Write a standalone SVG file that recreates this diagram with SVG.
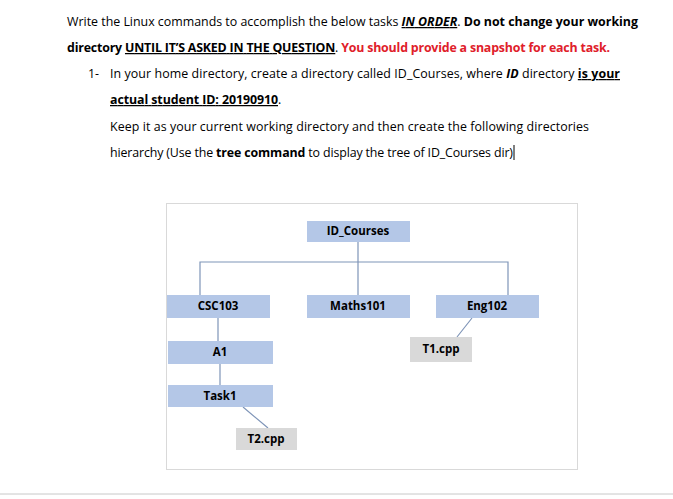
<svg xmlns="http://www.w3.org/2000/svg" width="673" height="499" viewBox="0 0 673 499">
<style>
text{font-family:"Open Sans","Liberation Sans",sans-serif;font-size:12.4px;fill:#000}
.b{font-weight:bold}
.r{fill:#e0202a;font-weight:bold}
.n{fill:#b4c7e7}
.f{fill:#d9d9d9}
.c{stroke:#7f95b8;stroke-width:1.2;fill:none}
.l{font-size:11.5px;font-weight:bold;text-anchor:middle}
</style>
<rect width="673" height="499" fill="#fff"/>
<text x="67" y="26" textLength="571">Write the Linux commands to accomplish the below tasks <tspan class="b" font-style="italic" text-decoration="underline">IN ORDER</tspan>. <tspan class="b">Do not change your working</tspan></text>
<text x="67" y="52" textLength="543"><tspan class="b">directory </tspan><tspan class="b" text-decoration="underline">UNTIL IT’S ASKED IN THE QUESTION</tspan>. <tspan class="r">You should provide a snapshot for each task.</tspan></text>
<text x="88" y="78">1-</text>
<text x="110" y="78" textLength="510">In your home directory, create a directory called ID_Courses, where <tspan class="b" font-style="italic">ID</tspan> directory <tspan class="b" text-decoration="underline">is your</tspan></text>
<text x="110" y="104" class="b" text-decoration="underline" textLength="168">actual student ID: 20190910</text><text x="278" y="104">.</text>
<text x="110" y="131" textLength="479">Keep it as your current working directory and then create the following directories</text>
<text x="110" y="157" textLength="403">hierarchy (Use the <tspan class="b">tree command</tspan> to display the tree of ID_Courses dir)</text>
<line x1="514" y1="145" x2="514" y2="160" stroke="#000"/>
<rect x="166.5" y="203.5" width="411" height="266" fill="none" stroke="#d9d9d9"/>
<g id="connectors">
<path class="c" d="M358 242V295M200 295V262H508V295M218 318V341M220 364V385M243 407L268 428M472 318L457 337"/>
</g>
<g id="id_courses"><rect class="n" x="307" y="221" width="103" height="21"/><text class="l" x="358" y="235">ID_Courses</text></g>
<g id="csc103"><rect class="n" x="167" y="295" width="103" height="23"/><text class="l" x="218" y="310">CSC103</text></g>
<g id="maths101"><rect class="n" x="307" y="295" width="103" height="23"/><text class="l" x="358" y="310">Maths101</text></g>
<g id="eng102"><rect class="n" x="436" y="295" width="103" height="23"/><text class="l" x="487" y="310">Eng102</text></g>
<g id="a1"><rect class="n" x="168" y="341" width="105" height="23"/><text class="l" x="220" y="356">A1</text></g>
<g id="task1"><rect class="n" x="168" y="385" width="105" height="22"/><text class="l" x="220" y="400">Task1</text></g>
<g id="t2"><rect class="f" x="236" y="428" width="61" height="22"/><text class="l" x="266" y="443">T2.cpp</text></g>
<g id="t1"><rect class="f" x="410" y="337" width="62" height="25"/><text class="l" x="441" y="353">T1.cpp</text></g>
<line x1="0" y1="494" x2="673" y2="494" stroke="#c8c8c8"/>
</svg>
